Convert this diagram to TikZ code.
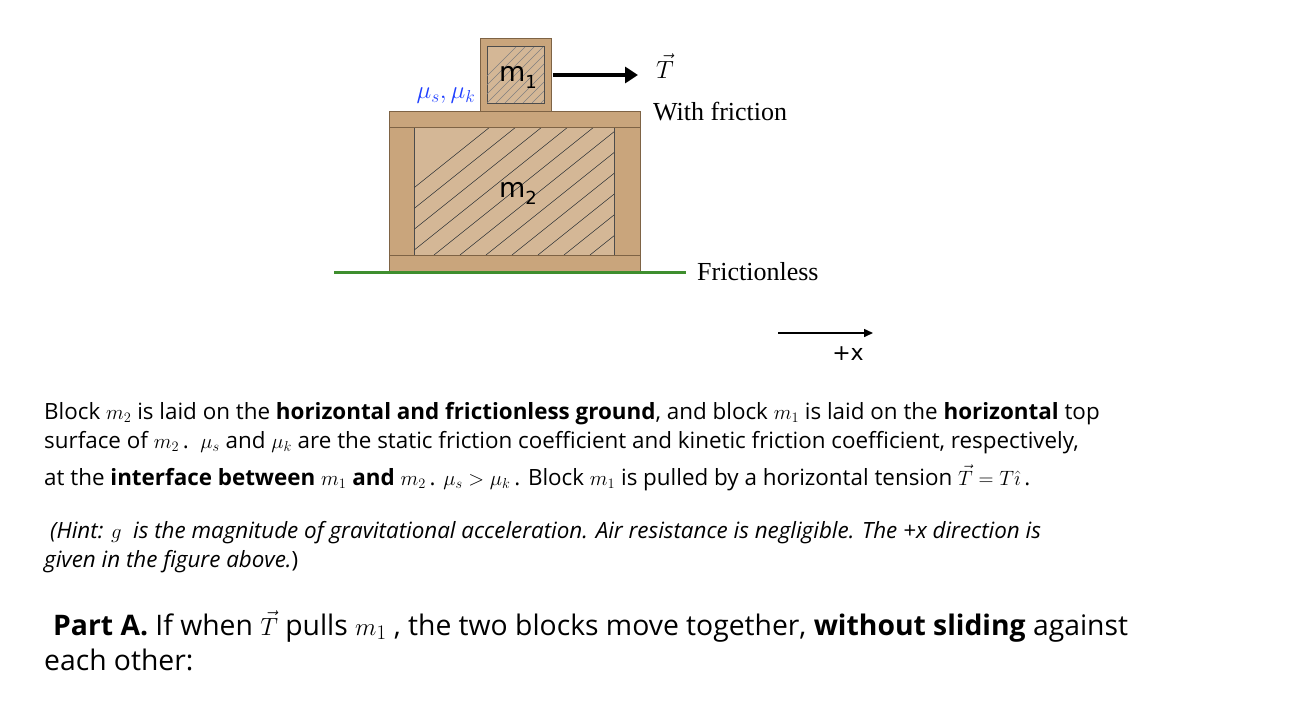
\documentclass[tikz,border=0pt]{standalone}
\usepackage{fontspec}
\setmainfont{Liberation Serif}
\newfontfamily\bodyf{Open Sans}
\newfontfamily\labf{DejaVu Sans}
\usetikzlibrary{arrows.meta}
\definecolor{wood}{HTML}{C9A57C}
\definecolor{woodd}{HTML}{B48E63}
\definecolor{grn}{HTML}{3E8E2E}
\definecolor{mublue}{HTML}{1F3FFF}
\tikzset{plank/.style={fill=wood,draw=woodd!70!black,line width=0.6pt},
 inner/.style={fill=wood!80!white,draw=black!70,line width=0.8pt},
 body/.style={anchor=base west,inner sep=0,font=\bodyf\fontsize{22.4}{26}\selectfont},
 big/.style={anchor=base west,inner sep=0,font=\bodyf\fontsize{28.3}{34}\selectfont}}
\begin{document}
\begin{tikzpicture}[x=1pt,y=-1pt]
\useasboundingbox (0,0) rectangle (1314,706);
% m2
\draw[plank] (389,111) rectangle (640,271);
\draw[inner] (414,127) rectangle (614,255);
\begin{scope}
\clip (414,127) rectangle (614,255);
\foreach \i in {0,...,14} {\draw[black!75,line width=0.6pt] (330+26*\i,255) -- (330+26*\i+160,127);}
\end{scope}
\draw[plank] (389,111) rectangle (640,127);
\draw[plank] (389,255) rectangle (640,271);
\node[font=\labf\fontsize{27}{27}\selectfont,inner sep=0] (m2) at (518,193) {m\raisebox{-7pt}{\fontsize{18}{18}\selectfont 2}};
% m1
\draw[plank] (480,38) rectangle (551,111);
\draw[inner,line width=0.5pt] (487,46) rectangle (544,103);
\begin{scope}
\clip (487,46) rectangle (544,103);
\foreach \i in {0,...,12} {\draw[black!50,line width=0.4pt] (460+9*\i,103) -- (460+9*\i+56,47);}
\end{scope}
\node[font=\labf\fontsize{27}{27}\selectfont,inner sep=0] (m1) at (518,77) {m\raisebox{-7pt}{\fontsize{18}{18}\selectfont 1}};
\coordinate (m1e) at (553,75);
\coordinate (Te) at (638,75);
\draw[line width=4pt,-{Triangle[length=13pt,width=16pt]}] (m1e) -- (Te);
\node[font=\fontsize{28}{28}\selectfont,inner sep=0] (T) at (665,66) {$\vec{T}$};
\node[font=\fontsize{27}{27}\selectfont,text=mublue,inner sep=0] (mu) at (446,96) {$\mu_s,\mu_k$};
\node[font=\fontsize{26}{26}\selectfont,anchor=west,inner sep=0] (wf) at (653,112) {With friction};
% ground
\coordinate (g1) at (334,272); \coordinate (g2) at (686,272);
\draw[grn,line width=3pt] (g1) -- (g2);
\node[font=\fontsize{26}{26}\selectfont,anchor=west,inner sep=0] (fl) at (697,272) {Frictionless};
% +x
\coordinate (x1) at (778,333); \coordinate (x2) at (873,333);
\draw[line width=1.5pt,-{Triangle[length=9pt,width=8pt]}] (x1) -- (x2);
\node[font=\labf\fontsize{22}{22}\selectfont,inner sep=0] (px) at (848,354) {+x};
% text
\node[body] (l1) at (44,419) {Block $m_2$ is laid on the \textbf{horizontal and frictionless ground}, and block $m_1$ is laid on the \textbf{horizontal} top};
\node[body] (l2) at (44,448) {surface of $m_2$\,.\ \ $\mu_s$ and $\mu_k$ are the static friction coefficient and kinetic friction coefficient, respectively,};
\node[body] (l3) at (44,485) {at the \textbf{interface between} $m_1$ \textbf{and} $m_2$\,. $\mu_s>\mu_k$\,. Block $m_1$ is pulled by a horizontal tension $\vec{T}=T\hat{\imath}$\,.};
\node[body,font=\bodyf\itshape\fontsize{22.4}{26}\selectfont] (h1) at (50,538) {(Hint: $g$\ \ is the magnitude of gravitational acceleration. Air resistance is negligible. The +x direction is};
\node[body,font=\bodyf\itshape\fontsize{22.4}{26}\selectfont] (h2) at (44,567) {given in the figure above.\upshape)};
\node[big] (pa) at (53,635) {\textbf{Part A.} If when $\vec{T}$ pulls $m_1$ , the two blocks move together, \textbf{without sliding} against};
\node[big] (pb) at (44,670) {each other:};
\end{tikzpicture}
\end{document}
